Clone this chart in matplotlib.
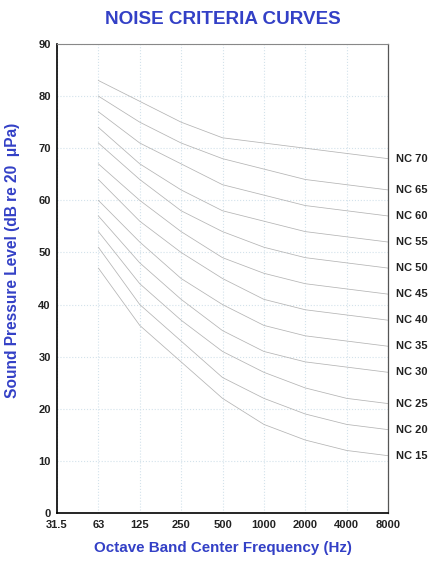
import matplotlib
matplotlib.use("Agg")
import matplotlib.pyplot as plt

plt.rcParams['font.family'] = ['Liberation Sans', 'DejaVu Sans']

freq_labels = ['31.5', '63', '125', '250', '500', '1000', '2000', '4000', '8000']
nc_names = ['NC 15', 'NC 20', 'NC 25', 'NC 30', 'NC 35', 'NC 40',
            'NC 45', 'NC 50', 'NC 55', 'NC 60', 'NC 65', 'NC 70']
# levels from 63 Hz to 8000 Hz
nc15 = [47, 36, 29, 22, 17, 14, 12, 11]
nc20 = [51, 40, 33, 26, 22, 19, 17, 16]
nc25 = [54, 44, 37, 31, 27, 24, 22, 21]
nc30 = [57, 48, 41, 35, 31, 29, 28, 27]
nc35 = [60, 52, 45, 40, 36, 34, 33, 32]
nc40 = [64, 56, 50, 45, 41, 39, 38, 37]
nc45 = [67, 60, 54, 49, 46, 44, 43, 42]
nc50 = [71, 64, 58, 54, 51, 49, 48, 47]
nc55 = [74, 67, 62, 58, 56, 54, 53, 52]
nc60 = [77, 71, 67, 63, 61, 59, 58, 57]
nc65 = [80, 75, 71, 68, 66, 64, 63, 62]
nc70 = [83, 79, 75, 72, 71, 70, 69, 68]
curves = [nc15, nc20, nc25, nc30, nc35, nc40, nc45, nc50, nc55, nc60, nc65, nc70]

blue = '#3340c6'
txt = '#222222'

fig = plt.figure(figsize=(4.36, 5.65), dpi=100)
ax = fig.add_axes([57/436, 1 - 513/565, 331/436, 469/565])

x = list(range(1, 9))
for name, vals in zip(nc_names, curves):
    ax.plot(x, vals, color='#b4b4b4', lw=0.55)
    ax.text(8.2, vals[-1], name, fontsize=8, fontweight='bold', color=txt,
            va='center', ha='left', clip_on=False)

ax.set_xlim(0, 8)
ax.set_ylim(0, 90)
ax.set_xticks(range(9))
ax.set_xticklabels(freq_labels)
ax.set_yticks(range(0, 91, 10))
ax.tick_params(length=0, labelsize=8, labelcolor=txt, pad=5)
ax.tick_params(axis='y', pad=4.5)
for lab in ax.get_xticklabels() + ax.get_yticklabels():
    lab.set_fontweight('bold')
ax.grid(True, color='#d3e2eb', ls=':', lw=0.8)

ax.spines['left'].set_linewidth(1.2)
ax.spines['bottom'].set_linewidth(1.2)
ax.spines['top'].set_color('#888888')
ax.spines['top'].set_linewidth(0.8)
ax.spines['right'].set_color('#555555')
ax.spines['right'].set_linewidth(0.9)

fig.text(223/436, 1 - 20/565, 'NOISE CRITERIA CURVES', ha='center', va='center',
         fontsize=13.6, fontweight='bold', color=blue)
fig.text(223/436, 1 - 548/565, 'Octave Band Center Frequency (Hz)', ha='center',
         va='center', fontsize=10.9, fontweight='bold', color=blue)
fig.text(13/436, 1 - 260/565, 'Sound Pressure Level (dB re 20  \u03bcPa)', ha='center',
         va='center', rotation=90, fontsize=11.2, fontweight='bold', color=blue)

fig.savefig('out.png', dpi=100, facecolor='white')
